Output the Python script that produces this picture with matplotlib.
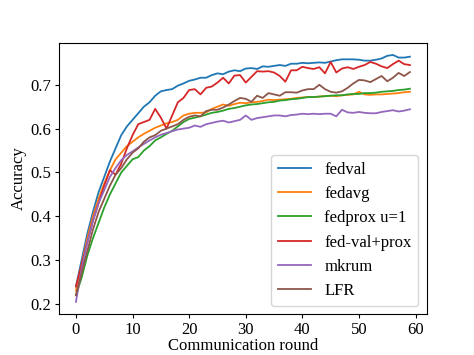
import numpy as np
import matplotlib
matplotlib.use("Agg")
import matplotlib.pyplot as plt

# accuracy per communication round
rounds = np.arange(60)

fedval = [0.24, 0.30, 0.36, 0.41, 0.455, 0.49, 0.525, 0.555, 0.585, 0.605,
          0.62, 0.635, 0.65, 0.66, 0.675, 0.685, 0.688, 0.69, 0.698, 0.703,
          0.709, 0.712, 0.716, 0.716, 0.722, 0.726, 0.724, 0.73, 0.733, 0.731,
          0.737, 0.738, 0.736, 0.742, 0.741, 0.743, 0.745, 0.743, 0.748, 0.748,
          0.75, 0.749, 0.75, 0.751, 0.75, 0.753, 0.756, 0.758, 0.758, 0.758,
          0.757, 0.755, 0.755, 0.757, 0.76, 0.766, 0.768, 0.762, 0.762, 0.764]

fedavg = [0.23, 0.29, 0.35, 0.40, 0.44, 0.475, 0.505, 0.53, 0.545, 0.56,
          0.57, 0.58, 0.588, 0.595, 0.602, 0.607, 0.612, 0.615, 0.62, 0.63,
          0.634, 0.636, 0.636, 0.637, 0.645, 0.65, 0.655, 0.652, 0.656, 0.659,
          0.658, 0.66, 0.661, 0.663, 0.666, 0.665, 0.666, 0.667, 0.668, 0.67,
          0.671, 0.672, 0.672, 0.673, 0.674, 0.675, 0.674, 0.676, 0.677, 0.678,
          0.684, 0.678, 0.677, 0.678, 0.678, 0.679, 0.68, 0.681, 0.683, 0.684]

fedprox = [0.22, 0.26, 0.31, 0.35, 0.385, 0.42, 0.45, 0.475, 0.50, 0.515,
           0.53, 0.535, 0.55, 0.56, 0.573, 0.58, 0.588, 0.595, 0.605, 0.615,
           0.622, 0.625, 0.628, 0.632, 0.636, 0.638, 0.641, 0.645, 0.647, 0.65,
           0.653, 0.655, 0.656, 0.658, 0.66, 0.661, 0.664, 0.665, 0.667, 0.668,
           0.67, 0.672, 0.672, 0.673, 0.674, 0.675, 0.676, 0.676, 0.678, 0.679,
           0.679, 0.681, 0.681, 0.682, 0.684, 0.685, 0.686, 0.688, 0.689, 0.691]

fedval_prox = [0.24, 0.29, 0.34, 0.39, 0.43, 0.47, 0.505, 0.495, 0.52, 0.555,
               0.585, 0.61, 0.615, 0.62, 0.645, 0.625, 0.60, 0.63, 0.66, 0.67,
               0.688, 0.69, 0.678, 0.693, 0.696, 0.705, 0.716, 0.703, 0.721, 0.722,
               0.705, 0.718, 0.731, 0.73, 0.731, 0.728, 0.72, 0.707, 0.733, 0.733,
               0.741, 0.738, 0.736, 0.74, 0.726, 0.752, 0.728, 0.737, 0.74, 0.736,
               0.741, 0.745, 0.752, 0.748, 0.742, 0.738, 0.747, 0.755, 0.747, 0.745]

mkrum = [0.205, 0.28, 0.34, 0.39, 0.43, 0.46, 0.49, 0.51, 0.528, 0.54,
         0.548, 0.557, 0.565, 0.573, 0.58, 0.586, 0.59, 0.594, 0.598, 0.60,
         0.602, 0.607, 0.604, 0.61, 0.613, 0.616, 0.618, 0.614, 0.617, 0.62,
         0.63, 0.62, 0.624, 0.626, 0.628, 0.63, 0.63, 0.628, 0.631, 0.632,
         0.634, 0.633, 0.634, 0.633, 0.634, 0.634, 0.628, 0.643, 0.637, 0.636,
         0.638, 0.636, 0.635, 0.635, 0.638, 0.64, 0.642, 0.639, 0.641, 0.644]

lfr = [0.22, 0.27, 0.32, 0.37, 0.41, 0.44, 0.47, 0.495, 0.51, 0.53,
       0.545, 0.555, 0.57, 0.58, 0.585, 0.595, 0.60, 0.605, 0.61, 0.62,
       0.627, 0.63, 0.628, 0.64, 0.643, 0.643, 0.648, 0.655, 0.663, 0.67,
       0.668, 0.661, 0.675, 0.67, 0.681, 0.678, 0.675, 0.683, 0.683, 0.682,
       0.687, 0.69, 0.69, 0.70, 0.69, 0.684, 0.682, 0.685, 0.693, 0.703,
       0.711, 0.71, 0.706, 0.713, 0.72, 0.708, 0.716, 0.727, 0.72, 0.729]

series = [
    ("fedval", fedval),
    ("fedavg", fedavg),
    ("fedprox u=1", fedprox),
    ("fed-val+prox", fedval_prox),
    ("mkrum", mkrum),
    ("LFR", lfr),
]

plt.rcParams['font.family'] = ['Liberation Serif', 'DejaVu Serif']
plt.rcParams['font.size'] = 12
plt.rcParams['axes.linewidth'] = 0.8
plt.rcParams['xtick.major.width'] = 0.8
plt.rcParams['ytick.major.width'] = 0.8
plt.rcParams['xtick.major.size'] = 3
plt.rcParams['ytick.major.size'] = 3
plt.rcParams['xtick.major.pad'] = 2.5
plt.rcParams['ytick.major.pad'] = 2.5

fig, ax = plt.subplots(figsize=(4.74, 3.55), dpi=100)
fig.subplots_adjust(left=0.125, right=0.9, bottom=0.115, top=0.88)

for name, vals in series:
    ax.plot(rounds, vals, label=name, linewidth=1.3)

ax.set_xlabel('Communication round', labelpad=0)
ax.set_ylabel('Accuracy', labelpad=3)
ax.set_xticks([0, 10, 20, 30, 40, 50, 60])
ax.set_yticks([0.2, 0.3, 0.4, 0.5, 0.6, 0.7])
ax.legend(loc='lower right', fontsize=12)

plt.savefig('out.png', dpi=100)
